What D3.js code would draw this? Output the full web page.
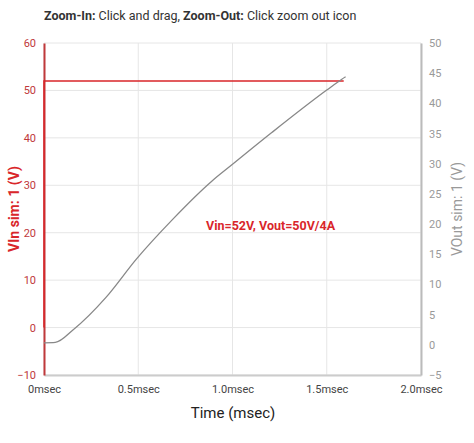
<!DOCTYPE html>
<html><head><meta charset="utf-8">
<script src="https://cdn.jsdelivr.net/npm/d3@7"></script>
<style>body{margin:0;background:#fff;font-family:Roboto,sans-serif}</style>
</head><body><svg id="c" width="474" height="443"></svg>
<script>
const xTicks=[0,0.5,1.0,1.5,2.0];
const xTickLabels=["0msec","0.5msec","1.0msec","1.5msec","2.0msec"];
const leftTicks=[-10,0,10,20,30,40,50,60];
const rightTicks=[-5,0,5,10,15,20,25,30,35,40,45,50];
const vinT=[0,0,1.59];
const vinV=[0,52,52];
const voutT=[0,0.06,0.155,0.33,0.49,0.68,0.89,1.0,1.21,1.5,1.58,1.6];
const voutV=[0.33,0.4,2.5,7.9,14.2,20.7,27.1,29.9,35.2,42.2,44.0,44.4];

const svg=d3.select("#c");
const L=44,R=421,T=43,B=375;
const x=d3.scaleLinear().domain([0,2]).range([L,R]);
const yl=d3.scaleLinear().domain([-10,60]).range([B,T]);
const yr=d3.scaleLinear().domain([-5,50]).range([B,T]);

svg.append("text").attr("x",44).attr("y",20).attr("font-size",12.5).attr("fill","#333")
 .html('<tspan font-weight="bold">Zoom-In:</tspan> Click and drag, <tspan font-weight="bold">Zoom-Out:</tspan> Click zoom out icon');

const g=svg.append("g");
xTicks.forEach(t=>g.append("line").attr("x1",x(t)).attr("x2",x(t)).attr("y1",T).attr("y2",B).attr("stroke","#e6e6e6"));
leftTicks.forEach(t=>g.append("line").attr("x1",L).attr("x2",R).attr("y1",yl(t)).attr("y2",yl(t)).attr("stroke","#e6e6e6"));

const xa=svg.append("g").attr("transform",`translate(0,${B})`)
 .call(d3.axisBottom(x).tickValues(xTicks).tickFormat((d,i)=>xTickLabels[i]).tickSize(0).tickPadding(10));
xa.select(".domain").attr("stroke","#ccc").attr("stroke-width",2);
xa.selectAll("text").attr("font-size",11).attr("fill","#444").attr("font-family","Roboto");

const la=svg.append("g").attr("transform",`translate(${L},0)`)
 .call(d3.axisLeft(yl).tickValues(leftTicks).tickSize(0).tickPadding(8));
la.select(".domain").attr("stroke","#c0393b").attr("stroke-width",2);
la.selectAll("text").attr("font-size",11).attr("fill","#c0393b").attr("font-family","Roboto");

const ra=svg.append("g").attr("transform",`translate(${R},0)`)
 .call(d3.axisRight(yr).tickValues(rightTicks).tickSize(0).tickPadding(8));
ra.select(".domain").attr("stroke","#bbb").attr("stroke-width",2);
ra.selectAll("text").attr("font-size",11).attr("fill","#999").attr("font-family","Roboto");

const vin=vinT.map((t,i)=>[t,vinV[i]]);
svg.append("path").datum(vin).attr("fill","none").attr("stroke","#d9262a").attr("stroke-width",1.5)
 .attr("d",d3.line().x(d=>x(d[0])).y(d=>yl(d[1])));
const vout=voutT.map((t,i)=>[t,voutV[i]]);
svg.append("path").datum(vout).attr("fill","none").attr("stroke","#888").attr("stroke-width",1.3)
 .attr("d",d3.line().x(d=>x(d[0])).y(d=>yr(d[1])).curve(d3.curveMonotoneX));

svg.append("text").attr("x",206).attr("y",230).attr("font-size",12.5).attr("font-weight","bold").attr("fill","#d9262a").text("Vin=52V, Vout=50V/4A");
svg.append("text").attr("transform","translate(19,209) rotate(-90)").attr("text-anchor","middle").attr("font-size",14).attr("font-weight","bold").attr("fill","#d9262a").text("VIn sim: 1 (V)");
svg.append("text").attr("transform","translate(462,209) rotate(-90)").attr("text-anchor","middle").attr("font-size",14).attr("fill","#999").text("VOut sim: 1 (V)");
svg.append("text").attr("x",233).attr("y",418).attr("text-anchor","middle").attr("font-size",15).attr("fill","#222").text("Time (msec)");
</script></body></html>
